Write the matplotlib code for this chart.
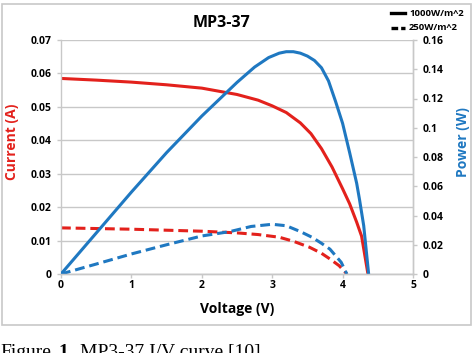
import matplotlib.pyplot as plt
import matplotlib.patches as patches
from matplotlib.ticker import FuncFormatter

plt.rcParams['font.family'] = ['Open Sans', 'DejaVu Sans']

# 1000 W/m^2
v_i_1000 = [0, 0.5, 1, 1.5, 2, 2.5, 2.8, 3.0, 3.2, 3.4, 3.55, 3.7, 3.85, 4.0, 4.1, 4.2, 4.27, 4.36]
i_1000 = [0.0585, 0.058, 0.0574, 0.0566, 0.0556, 0.0537, 0.052, 0.0503, 0.0483, 0.0452,
          0.042, 0.0375, 0.032, 0.0255, 0.021, 0.0155, 0.0113, 0.0]
v_p_1000 = [0, 0.5, 1, 1.5, 2, 2.5, 2.75, 2.95, 3.1, 3.2, 3.3, 3.4, 3.5, 3.6, 3.7,
            3.8, 3.9, 4.0, 4.1, 4.2, 4.24, 4.3, 4.37]
p_1000 = [0, 0.028, 0.056, 0.083, 0.108, 0.131, 0.1415, 0.148, 0.151, 0.152, 0.152, 0.151,
          0.149, 0.146, 0.141, 0.132, 0.118, 0.103, 0.083, 0.062, 0.051, 0.033, 0]

# 250 W/m^2
v_i_250 = [0, 0.5, 1, 1.5, 2, 2.5, 2.8, 3.1, 3.3, 3.53, 3.7, 3.82, 3.95, 4.06]
i_250 = [0.0138, 0.0136, 0.0134, 0.0131, 0.0128, 0.0123, 0.0118, 0.011, 0.0098, 0.008,
         0.0062, 0.0045, 0.0025, 0]
v_p_250 = [0, 0.5, 1, 1.5, 2, 2.4, 2.7, 3.0, 3.2, 3.4, 3.57, 3.7, 3.82, 3.98, 4.06]
p_250 = [0, 0.0068, 0.0137, 0.020, 0.026, 0.029, 0.0325, 0.034, 0.033, 0.029, 0.025,
         0.021, 0.017, 0.008, 0]

RED = '#e3211c'
BLUE = '#1f78c1'
GRID = '#c8c8c8'

fig = plt.figure(figsize=(4.74, 3.53), dpi=100)
ax = fig.add_axes([61 / 474, 1 - 274 / 353, 352 / 474, 234 / 353])
ax2 = ax.twinx()

lw = 2.2
dash = (3.2, 1.6)
ax.plot(v_i_1000, i_1000, color=RED, lw=lw, solid_capstyle='butt')
ax.plot(v_i_250, i_250, color=RED, lw=lw, dashes=dash)
ax2.plot(v_p_1000, p_1000, color=BLUE, lw=lw, solid_capstyle='butt')
ax2.plot(v_p_250, p_250, color=BLUE, lw=lw, dashes=dash)

ax.set_xlim(0, 5)
ax.set_ylim(0, 0.07)
ax2.set_ylim(0, 0.16)
ax.set_xticks(range(6))
ax.set_yticks([i / 100 for i in range(8)])
ax2.set_yticks([i * 0.02 for i in range(9)])

fmt = FuncFormatter(lambda v, p: '0' if abs(v) < 1e-9 else ('%.2f' % v).rstrip('0'))
ax.yaxis.set_major_formatter(fmt)
ax2.yaxis.set_major_formatter(fmt)

ax.yaxis.grid(True, color=GRID, lw=1)
ax.set_axisbelow(True)
for a in (ax, ax2):
    a.spines['top'].set_visible(False)
    for s in ('left', 'right', 'bottom'):
        a.spines[s].set_color(GRID)
        a.spines[s].set_linewidth(1)
    a.tick_params(colors=GRID, length=3, width=1, labelsize=7.5, labelcolor='black', pad=4)
    for lab in a.get_xticklabels() + a.get_yticklabels():
        lab.set_fontweight('bold')
ax.tick_params(axis='x', pad=1.5)
ax2.spines['left'].set_visible(False)

ax.set_xlabel('Voltage (V)', fontsize=10, fontweight='bold')
ax.xaxis.set_label_coords(0.5, -(309 - 274) / 234)
ax.set_ylabel('Current (A)', fontsize=10, fontweight='bold', color=RED)
ax.yaxis.set_label_coords((12 - 61) / 352, (274 - 142) / 234)
ax2.set_ylabel('Power (W)', fontsize=10, fontweight='bold', color=BLUE, rotation=90)
ax2.yaxis.set_label_coords((463 - 61) / 352, (274 - 142) / 234)
ax.xaxis.label.set_va('center')
ax.yaxis.label.set_va('center')
ax2.yaxis.label.set_va('center')

fig.text(222 / 474, 1 - 23 / 353, 'MP3-37', ha='center', va='center', fontsize=11.5, fontweight='bold')

# legend
fig.lines.append(plt.Line2D([391 / 474, 405 / 474], [1 - 13 / 353] * 2, color='black', lw=2.4,
                            transform=fig.transFigure))
fig.lines.append(plt.Line2D([391 / 474, 405 / 474], [1 - 28 / 353] * 2, color='black', lw=2.4,
                            dashes=(2, 0.9), transform=fig.transFigure))
fig.text(409 / 474, 1 - 13 / 353, '1000W/m^2', ha='left', va='center', fontsize=6.8, fontweight='bold')
fig.text(409 / 474, 1 - 28 / 353, '250W/m^2', ha='left', va='center', fontsize=6.8, fontweight='bold')

# border box and cut caption
fig.patches.append(patches.Rectangle((2 / 474, 1 - 325 / 353), 469 / 474, 321 / 353,
                                     transform=fig.transFigure, fill=False,
                                     edgecolor='#c8c8c8', lw=1.2))
cap_y = 1 - 344 / 353
fig.text(0 / 474, cap_y, 'Figure', ha='left', va='top', fontsize=14, family='Liberation Serif')
fig.text(58 / 474, cap_y, '1.', ha='left', va='top', fontsize=14, family='Liberation Serif',
         fontweight='bold')
fig.text(80 / 474, cap_y, 'MP3-37 I/V curve [10]', ha='left', va='top', fontsize=14,
         family='Liberation Serif')

fig.savefig('out.png', dpi=100)
